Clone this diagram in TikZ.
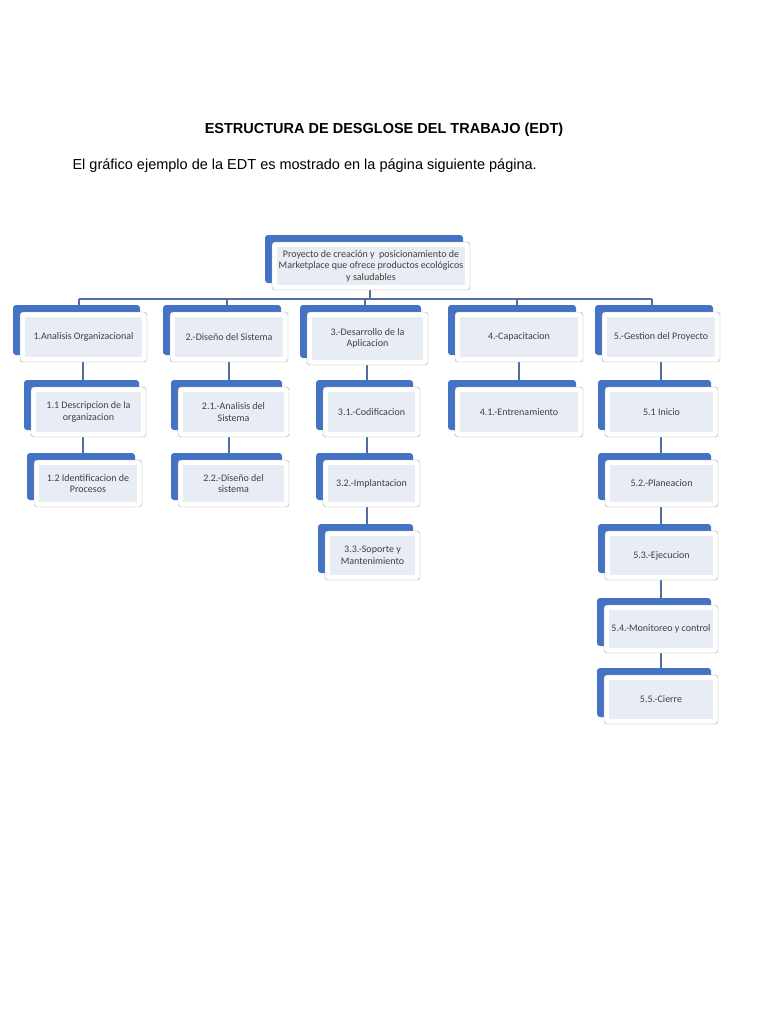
\documentclass[tikz,border=0pt]{standalone}
\usepackage{fontspec}
\setmainfont{Liberation Sans}
\newfontfamily\boxfont{Carlito}
\definecolor{bl}{RGB}{68,114,196}
\definecolor{ln}{RGB}{80,110,160}
\definecolor{inner}{RGB}{232,236,244}
\tikzset{
 back/.style={fill=bl,rounded corners=3pt,draw=none,minimum width=#1,inner sep=0},
 front/.style={fill=white,draw=gray!70,rounded corners=3pt,inner sep=0,align=center},
 lbl/.style={align=center,font=\boxfont\fontsize{10}{11.5}\selectfont,text=black!75},
 conn/.style={draw=ln,line width=1.1pt}
}
\newcommand{\wbs}[6]{%
 \node[back,minimum width={#4-#2},minimum height={#5-#3}] (#1b) at ({(#2+#4)/2-7},{(#3+#5)/2-7}) {};
 \node[front,minimum width={#4-#2},minimum height={#5-#3}] (#1) at ({(#2+#4)/2},{(#3+#5)/2}) {};
 \fill[inner] ({#2+5},{#3+5}) rectangle ({#4-5},{#5-5});
 \node[lbl] (#1t) at (#1) {#6};
}
\begin{document}
\begin{tikzpicture}[x=1pt,y=-1pt]
\useasboundingbox (0,0) rectangle (768,1024);
\node[font=\bfseries\fontsize{14.5}{17}\selectfont] (title) at (384,130) {ESTRUCTURA DE DESGLOSE DEL TRABAJO (EDT)};
\node[anchor=west,font=\fontsize{14.5}{17}\selectfont] (sub) at (69,166) {El gráfico ejemplo de la EDT es mostrado en la página siguiente página.};
\coordinate (hl) at (79,299); \coordinate (hr) at (652,299); \coordinate (hm) at (370,299);
\draw[conn] (370,290) -- (hm);
\draw[conn] (hl) -- (hr);
\foreach \x in {79,227,365,517,652}{\draw[conn] (\x,299) -- (\x,312);}
\draw[conn] (83,362) -- (83,500);
\draw[conn] (229,362) -- (229,500);
\draw[conn] (367,365) -- (367,572);
\draw[conn] (519,362) -- (519,380);
\draw[conn] (661,362) -- (661,716);
\wbs{root}{272}{242}{470}{290}{Proyecto de creación y \ posicionamiento de\\Marketplace que ofrece productos ecológicos\\y saludables}
\wbs{a}{20}{312}{147}{362}{1.Analisis Organizacional}
\wbs{b}{170}{312}{288}{362}{2.-Diseño del Sistema}
\wbs{c}{307}{312}{428}{365}{3.-Desarrollo de la\\Aplicacion}
\wbs{d}{455}{312}{583}{362}{4.-Capacitacion}
\wbs{e}{602}{312}{720}{362}{5.-Gestion del Proyecto}
\wbs{a1}{31}{387}{146}{437}{1.1 Descripcion de la\\organizacion}
\wbs{a2}{34}{460}{142}{507}{1.2 Identificacion de\\Procesos}
\wbs{b1}{178}{387}{289}{437}{2.1.-Analisis del\\Sistema}
\wbs{b2}{178}{460}{289}{507}{2.2.-Diseño del\\sistema}
\wbs{c1}{323}{387}{420}{437}{3.1.-Codificacion}
\wbs{c2}{323}{460}{420}{507}{3.2.-Implantacion}
\wbs{c3}{325}{531}{420}{580}{3.3.-Soporte y\\Mantenimiento}
\wbs{d1}{455}{387}{583}{437}{4.1.-Entrenamiento}
\wbs{e1}{605}{387}{718}{437}{5.1 Inicio}
\wbs{e2}{605}{460}{718}{507}{5.2.-Planeacion}
\wbs{e3}{605}{531}{718}{580}{5.3.-Ejecucion}
\wbs{e4}{604}{605}{718}{653}{5.4.-Monitoreo y control}
\wbs{e5}{604}{675}{718}{724}{5.5.-Cierre}
\end{tikzpicture}
\end{document}
